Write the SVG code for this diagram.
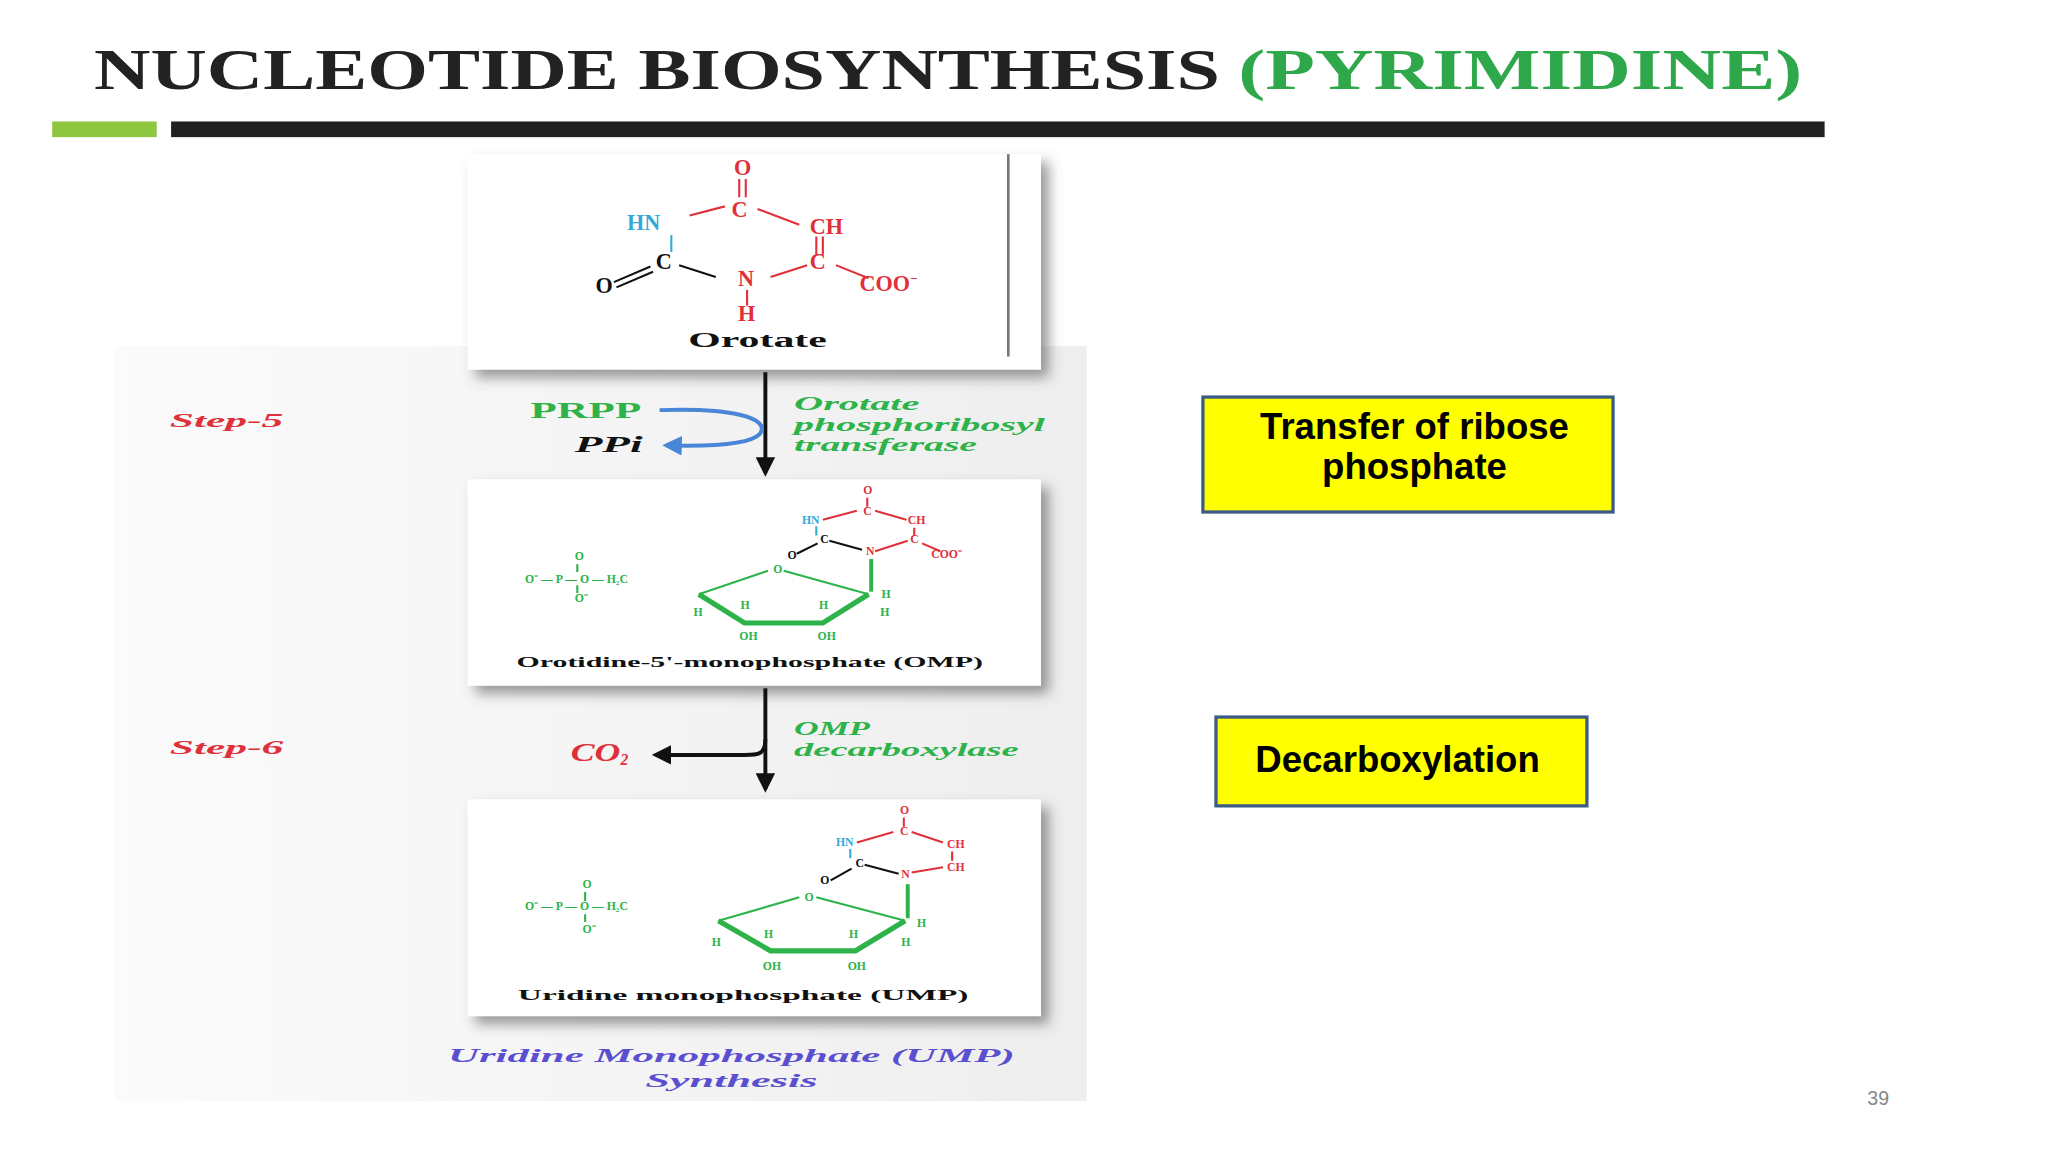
<svg xmlns="http://www.w3.org/2000/svg" width="2048" height="1152" viewBox="0 0 2048 1152">
<defs>
<marker id="ah" viewBox="0 0 10 10" refX="8" refY="5" markerWidth="5" markerHeight="5" orient="auto"><path d="M0,0 L10,5 L0,10 z" fill="#111"/></marker>
<marker id="ahb" viewBox="0 0 10 10" refX="8" refY="5" markerWidth="5" markerHeight="5" orient="auto"><path d="M0,0 L10,5 L0,10 z" fill="#4a86d6"/></marker>
<linearGradient id="bg" x1="0" y1="0" x2="1" y2="0"><stop offset="0" stop-color="#fbfbfb"/><stop offset="1" stop-color="#eeeeee"/></linearGradient>
<filter id="sh" x="-10%" y="-10%" width="125%" height="130%"><feDropShadow dx="6" dy="6" stdDeviation="5" flood-color="#555" flood-opacity="0.6"/></filter>
</defs>
<style>
.ser{font-family:"Liberation Serif",serif;font-weight:bold}
.it{font-style:italic}
.red{fill:#e0303a}.grn{fill:#2db34a}.blu{fill:#33a9d6}.blk{fill:#111}
.box{fill:#fff;filter:url(#sh)}
.yb{fill:#ffff00;stroke:#3b5a86;stroke-width:2.5}
.yt{font-family:"Liberation Sans",Arial,sans-serif;font-weight:bold;font-size:28px;fill:#000;text-anchor:middle}
.bond{stroke-width:1.6;fill:none}
</style>
<g transform="scale(1.3061)">
<g id="title">
<text x="72" y="68" class="ser" font-size="44" fill="#222"><tspan textLength="862" lengthAdjust="spacingAndGlyphs">NUCLEOTIDE BIOSYNTHESIS</tspan><tspan x="948" fill="#2ea84a" textLength="432" lengthAdjust="spacingAndGlyphs">(PYRIMIDINE)</tspan></text>
<rect x="40" y="93" width="80" height="12" fill="#8dc63f"/>
<rect x="131" y="93" width="1266" height="12" fill="#222"/>
</g>
<rect x="88" y="265" width="744" height="578" fill="url(#bg)"/>
<g id="orotate">
<rect x="358" y="118" width="439" height="165" class="box"/>
<line x1="772" y1="118" x2="772" y2="273" stroke="#777" stroke-width="2"/>
<g class="ser" font-size="17">
<text x="562" y="134" class="red">O</text>
<text x="560" y="166" class="red">C</text>
<text x="480" y="176" class="blu">HN</text>
<text x="620" y="179" class="red">CH</text>
<text x="502" y="206" class="blk">C</text>
<text x="620" y="206" class="red">C</text>
<text x="456" y="224" class="blk">O</text>
<text x="565" y="219" class="red">N</text>
<text x="565" y="246" class="red">H</text>
<text x="658" y="223" class="red">COO<tspan font-size="10" dy="-6">−</tspan></text>
<text x="580" y="266" class="blk" text-anchor="middle" font-size="16" textLength="106" lengthAdjust="spacingAndGlyphs">Orotate</text>
</g>
<g class="bond">
<path d="M566,137 V151 M571,137 V151" stroke="#e0303a"/>
<path d="M528,165 L555,158 M580,160 L612,172 M590,212 L618,203 M625,181 V195 M630,181 V195 M640,203 L665,213" stroke="#e0303a"/>
<path d="M514,180 V193" stroke="#33a9d6"/>
<path d="M520,203 L548,212 M470,216 L498,204 M472,220 L500,208" stroke="#111"/>
<path d="M572,222 V234" stroke="#e0303a"/>
</g>
</g>
<g id="omp">
<rect x="358" y="367" width="439" height="158" class="box"/>
<g class="ser" font-size="9">
<text x="661" y="378" class="red">O</text><text x="661" y="394" class="red">C</text>
<text x="614" y="401" class="blu">HN</text><text x="695" y="401" class="red">CH</text>
<text x="628" y="416" class="blk">C</text><text x="697" y="416" class="red">C</text>
<text x="603" y="428" class="blk">O</text><text x="663" y="425" class="red">N</text>
<text x="713" y="427" class="red">COO⁻</text>
<text x="402" y="446" class="grn">O⁻ — P — O — H₂C</text>
<text x="440" y="429" class="grn">O</text><text x="440" y="461" class="grn">O⁻</text>
<text x="592" y="439" class="grn">O</text>
<text x="531" y="472" class="grn">H</text><text x="567" y="466" class="grn">H</text><text x="627" y="466" class="grn">H</text><text x="674" y="472" class="grn">H</text><text x="675" y="458" class="grn">H</text>
<text x="566" y="490" class="grn">OH</text><text x="626" y="490" class="grn">OH</text>
<text x="574" y="511" class="blk" text-anchor="middle" font-size="11" textLength="357" lengthAdjust="spacingAndGlyphs">Orotidine-5'-monophosphate (OMP)</text>
</g>
<g class="bond" stroke-width="1">
<path d="M664,381 V388" stroke="#e0303a"/>
<path d="M630,398 L656,391 M670,391 L694,398 M700,404 V410 M670,422 L695,414 M706,416 L720,422" stroke="#e0303a"/>
<path d="M625,403 V410" stroke="#33a9d6"/>
<path d="M635,414 L660,421 M610,424 L626,416" stroke="#111"/>
<path d="M442,432 V438 M442,448 V454" stroke="#2db34a"/>
</g>
<g class="bond" stroke="#2db34a">
<path d="M535,455 L588,437 M600,437 L665,455"/>
<path d="M535,455 L570,477 L630,477 L665,455" stroke-width="4"/>
<path d="M667,453 V428" stroke-width="3"/>
</g>
</g>
<g id="ump">
<rect x="358" y="612" width="439" height="166" class="box"/>
<g class="ser" font-size="9">
<text x="689" y="623" class="red">O</text><text x="689" y="639" class="red">C</text>
<text x="640" y="648" class="blu">HN</text><text x="725" y="649" class="red">CH</text>
<text x="655" y="664" class="blk">C</text><text x="725" y="667" class="red">CH</text>
<text x="628" y="677" class="blk">O</text><text x="690" y="672" class="red">N</text>
<text x="402" y="697" class="grn">O⁻ — P — O — H₂C</text>
<text x="446" y="680" class="grn">O</text><text x="446" y="714" class="grn">O⁻</text>
<text x="616" y="690" class="grn">O</text>
<text x="545" y="724" class="grn">H</text><text x="585" y="718" class="grn">H</text><text x="650" y="718" class="grn">H</text><text x="690" y="724" class="grn">H</text><text x="702" y="710" class="grn">H</text>
<text x="584" y="743" class="grn">OH</text><text x="649" y="743" class="grn">OH</text>
<text x="569" y="766" class="blk" text-anchor="middle" font-size="11" textLength="345" lengthAdjust="spacingAndGlyphs">Uridine monophosphate (UMP)</text>
</g>
<g class="bond" stroke-width="1">
<path d="M692,626 V633" stroke="#e0303a"/>
<path d="M656,645 L684,637 M698,637 L722,645 M729,652 V659 M698,668 L722,664" stroke="#e0303a"/>
<path d="M651,650 V657" stroke="#33a9d6"/>
<path d="M662,662 L688,669 M636,674 L652,665" stroke="#111"/>
<path d="M448,683 V690 M448,700 V706" stroke="#2db34a"/>
</g>
<g class="bond" stroke="#2db34a">
<path d="M550,705 L612,687 M625,687 L693,705"/>
<path d="M550,705 L590,728 L655,728 L693,705" stroke-width="4"/>
<path d="M695,703 V677" stroke-width="3"/>
</g>
</g>
<g id="connectors">
<line x1="586" y1="285" x2="586" y2="362" stroke="#111" stroke-width="3" marker-end="url(#ah)"/>
<path d="M505,314 C560,312 590,320 582,332 C575,340 545,342 510,341" stroke="#4a86d6" stroke-width="3" fill="none" marker-end="url(#ahb)"/>
<line x1="586" y1="527" x2="586" y2="604" stroke="#111" stroke-width="3" marker-end="url(#ah)"/>
<path d="M586,566 C586,578 580,578 570,578 L502,578" stroke="#111" stroke-width="3" fill="none" marker-end="url(#ah)"/>
</g>
<g id="labels" class="ser it">
<text x="130" y="327" class="red" font-size="15" textLength="87" lengthAdjust="spacingAndGlyphs">Step-5</text>
<text x="130" y="577" class="red" font-size="15" textLength="87" lengthAdjust="spacingAndGlyphs">Step-6</text>
<text x="406" y="320" class="grn" font-size="17" font-style="normal" textLength="85" lengthAdjust="spacingAndGlyphs">PRPP</text>
<text x="440" y="346" class="blk" font-size="17" textLength="52" lengthAdjust="spacingAndGlyphs">PPi</text>
<text x="437" y="583" class="red" font-size="19"><tspan textLength="38" lengthAdjust="spacingAndGlyphs">CO</tspan><tspan font-size="12" dy="3">2</tspan></text>
<g class="grn" font-size="14"><text x="608" y="314" textLength="96" lengthAdjust="spacingAndGlyphs">Orotate</text><text x="608" y="330" textLength="192" lengthAdjust="spacingAndGlyphs">phosphoribosyl</text><text x="608" y="345" textLength="140" lengthAdjust="spacingAndGlyphs">transferase</text>
<text x="608" y="563" textLength="58" lengthAdjust="spacingAndGlyphs">OMP</text><text x="608" y="579" textLength="172" lengthAdjust="spacingAndGlyphs">decarboxylase</text></g>
<g fill="#5a4fd0" font-size="15"><text x="343" y="813" textLength="434" lengthAdjust="spacingAndGlyphs">Uridine Monophosphate (UMP)</text><text x="494" y="832" textLength="132" lengthAdjust="spacingAndGlyphs">Synthesis</text></g>
</g>
<g id="box1"><rect x="921" y="304" width="314" height="88" class="yb"/><text x="1083" y="336" class="yt">Transfer of ribose</text><text x="1083" y="367" class="yt">phosphate</text></g>
<g id="box2"><rect x="931" y="549" width="284" height="68" class="yb"/><text x="1070" y="591" class="yt">Decarboxylation</text></g>
<text x="1438" y="846" font-family="Liberation Sans,sans-serif" font-size="15" fill="#888" text-anchor="middle">39</text>
</g>
</svg>
